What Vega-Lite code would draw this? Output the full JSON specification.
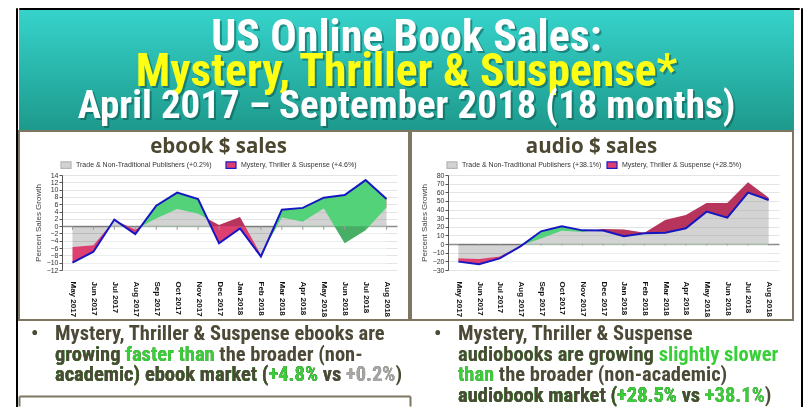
{
  "$schema": "https://vega.github.io/schema/vega-lite/v6.json",
  "background": "white",
  "padding": {"left": 15, "top": 7, "right": 0, "bottom": 0},
  "config": {"view": {"stroke": null}, "font": "Liberation Sans"},
  "datasets": {
    "sales": [
      {"month": "May 2017", "ebook_trade": -5.7, "ebook_mystery": -10.0, "audio_trade": -16.5, "audio_mystery": -20.3},
      {"month": "Jun 2017", "ebook_trade": -5.2, "ebook_mystery": -7.0, "audio_trade": -17.3, "audio_mystery": -23.4},
      {"month": "Jul 2017", "ebook_trade": 1.6, "ebook_mystery": 1.8, "audio_trade": -14.3, "audio_mystery": -16.5},
      {"month": "Aug 2017", "ebook_trade": -0.9, "ebook_mystery": -2.2, "audio_trade": -2.0, "audio_mystery": -2.6},
      {"month": "Sep 2017", "ebook_trade": 2.1, "ebook_mystery": 5.6, "audio_trade": 6.6, "audio_mystery": 14.8},
      {"month": "Oct 2017", "ebook_trade": 4.7, "ebook_mystery": 9.2, "audio_trade": 15.5, "audio_mystery": 20.6},
      {"month": "Nov 2017", "ebook_trade": 3.4, "ebook_mystery": 7.4, "audio_trade": 14.0, "audio_mystery": 15.9},
      {"month": "Dec 2017", "ebook_trade": 0.3, "ebook_mystery": -4.7, "audio_trade": 17.5, "audio_mystery": 15.6},
      {"month": "Jan 2018", "ebook_trade": 2.5, "ebook_mystery": -0.6, "audio_trade": 17.0, "audio_mystery": 9.0},
      {"month": "Feb 2018", "ebook_trade": -7.8, "ebook_mystery": -8.3, "audio_trade": 13.0, "audio_mystery": 12.5},
      {"month": "Mar 2018", "ebook_trade": 2.4, "ebook_mystery": 4.5, "audio_trade": 28.0, "audio_mystery": 13.2},
      {"month": "Apr 2018", "ebook_trade": 1.2, "ebook_mystery": 5.0, "audio_trade": 33.8, "audio_mystery": 18.3},
      {"month": "May 2018", "ebook_trade": 4.8, "ebook_mystery": 7.8, "audio_trade": 47.6, "audio_mystery": 37.6},
      {"month": "Jun 2018", "ebook_trade": -4.7, "ebook_mystery": 8.5, "audio_trade": 47.6, "audio_mystery": 30.6},
      {"month": "Jul 2018", "ebook_trade": -1.1, "ebook_mystery": 12.6, "audio_trade": 71.6, "audio_mystery": 59.6},
      {"month": "Aug 2018", "ebook_trade": 5.1, "ebook_mystery": 7.4, "audio_trade": 53.8, "audio_mystery": 51.1}
    ],
    "header": [
      {"line": 1, "text": "US Online Book Sales:"},
      {"line": 2, "text": "Mystery, Thriller & Suspense*"},
      {"line": 3, "text": "April 2017 – September 2018 (18 months)"}
    ],
    "bullets": [
      {"col": "L", "line": 1, "text": "Mystery, Thriller & Suspense ebooks are", "tone": "dark"},
      {"col": "L", "line": 2, "text": "growing faster than the broader (non-", "tone": "dark"},
      {"col": "L", "line": 2, "text": "growing faster than", "tone": "green"},
      {"col": "L", "line": 2, "text": "growing ", "tone": "dark"},
      {"col": "L", "line": 3, "text": "academic) ebook market (+4.8% vs +0.2%)", "tone": "dark"},
      {"col": "L", "line": 3, "text": "academic) ebook market (+4.8% vs +0.2%", "tone": "gray"},
      {"col": "L", "line": 3, "text": "academic) ebook market (+4.8% vs ", "tone": "dark"},
      {"col": "L", "line": 3, "text": "academic) ebook market (+4.8%", "tone": "green"},
      {"col": "L", "line": 3, "text": "academic) ebook market (", "tone": "dark"},
      {"col": "R", "line": 1, "text": "Mystery, Thriller & Suspense", "tone": "dark"},
      {"col": "R", "line": 2, "text": "audiobooks are growing slightly slower", "tone": "green"},
      {"col": "R", "line": 2, "text": "audiobooks are growing ", "tone": "dark"},
      {"col": "R", "line": 3, "text": "than the broader (non-academic)", "tone": "dark"},
      {"col": "R", "line": 3, "text": "than", "tone": "green"},
      {"col": "R", "line": 4, "text": "audiobook market (+28.5% vs +38.1%)", "tone": "dark"},
      {"col": "R", "line": 4, "text": "audiobook market (+28.5% vs +38.1%", "tone": "green"},
      {"col": "R", "line": 4, "text": "audiobook market (+28.5% vs ", "tone": "dark"},
      {"col": "R", "line": 4, "text": "audiobook market (+28.5%", "tone": "green"},
      {"col": "R", "line": 4, "text": "audiobook market (", "tone": "dark"}
    ],
    "dots": [
      {"col": "L", "line": 1, "text": "•"},
      {"col": "R", "line": 1, "text": "•"}
    ]
  },
  "spacing": 0,
  "resolve": {"scale": {"color": "independent", "fill": "independent", "size": "independent"}, "legend": {"color": "independent", "fill": "independent", "size": "independent"}},
  "hconcat": [
    {
      "width": 1, "height": 399,
      "view": {"stroke": "black", "strokeWidth": 1},
      "data": {"values": []},
      "mark": "point",
      "encoding": {}
    },
    {
      "spacing": 0,
      "resolve": {"scale": {"color": "independent", "fill": "independent", "size": "independent"}, "legend": {"color": "independent", "fill": "independent", "size": "independent"}},
      "vconcat": [
        {
          "width": 780, "height": 1,
          "view": {"stroke": "black", "strokeWidth": 1},
          "data": {"values": []},
          "mark": "point",
          "encoding": {}
        },
        {
          "width": 775, "height": 120,
          "view": {"stroke": null, "fill": {"gradient": "linear", "x1": 0, "y1": 0, "x2": 0, "y2": 1, "stops": [{"offset": 0, "color": "#36d3cb"}, {"offset": 1, "color": "#1d9a8c"}]}},
          "data": {"name": "header"},
          "encoding": {
            "x": {"datum": 0.5, "type": "quantitative", "scale": {"domain": [0, 1]}, "axis": null},
            "y": {"field": "line", "type": "ordinal", "scale": {"type": "point", "padding": 0, "domain": [1, 2, 3], "range": [28, 96]}, "axis": null},
            "text": {"field": "text"}
          },
          "layer": [
            {"transform": [{"filter": "datum.line === 1"}], "mark": {"type": "text", "align": "center", "baseline": "middle", "font": "Roboto Condensed", "fontWeight": "bold", "fontSize": 44, "dx": 2, "dy": 2, "fill": "#0a4f4a", "opacity": 0.5}},
            {"transform": [{"filter": "datum.line === 2"}], "mark": {"type": "text", "align": "center", "baseline": "middle", "font": "Roboto Condensed", "fontWeight": "bold", "fontSize": 45.5, "dx": 2, "dy": 2, "fill": "#0a4f4a", "opacity": 0.5}},
            {"transform": [{"filter": "datum.line === 3"}], "mark": {"type": "text", "align": "center", "baseline": "middle", "font": "Roboto Condensed", "fontWeight": "bold", "fontSize": 39, "dx": 2, "dy": 2, "fill": "#0a4f4a", "opacity": 0.5}},
            {"transform": [{"filter": "datum.line === 1"}], "mark": {"type": "text", "align": "center", "baseline": "middle", "font": "Roboto Condensed", "fontWeight": "bold", "fontSize": 44, "fill": "#ffffff"}},
            {"transform": [{"filter": "datum.line === 2"}], "mark": {"type": "text", "align": "center", "baseline": "middle", "font": "Roboto Condensed", "fontWeight": "bold", "fontSize": 45.5, "fill": "#ffff14"}},
            {"transform": [{"filter": "datum.line === 3"}], "mark": {"type": "text", "align": "center", "baseline": "middle", "font": "Roboto Condensed", "fontWeight": "bold", "fontSize": 39, "fill": "#ffffff"}}
          ]
        },
        {
          "spacing": 0,
          "resolve": {"scale": {"color": "independent", "fill": "independent", "size": "independent"}, "legend": {"color": "independent", "fill": "independent", "size": "independent"}},
          "hconcat": [
            {
              "width": 390, "height": 189,
              "view": {"stroke": "#7d7660", "strokeWidth": 2, "fill": "white"},
              "data": {"name": "sales"},
              "resolve": {"axis": {"x": "independent"}},
              "layer": [
                {
                  "mark": {"type": "area"},
                  "encoding": {
                    "x": {"field": "month", "type": "ordinal", "sort": null, "scale": {"type": "point", "padding": 0.5, "range": [43, 378]},
                      "axis": {"orient": "bottom", "offset": -41, "title": null, "domain": false, "ticks": false, "grid": false, "labelAngle": 90, "labelAlign": "left", "labelBaseline": "middle", "labelFont": "Liberation Sans", "labelFontSize": 8, "labelFontWeight": "bold", "labelColor": "#111", "labelPadding": 2}},
                    "y": {"field": "ebook_mystery", "type": "quantitative", "scale": {"domain": [-12, 14], "range": [139, 44], "nice": false, "zero": false},
                      "axis": {"orient": "left", "offset": -43, "title": "Percent Sales Growth", "values": [-12, -10, -8, -6, -4, -2, 0, 2, 4, 6, 8, 10, 12, 14], "labelOverlap": false, "domainColor": "#555", "tickColor": "#555", "tickSize": 3, "labelFont": "Liberation Sans", "labelFontSize": 7, "labelColor": "#333", "labelPadding": 1, "grid": true, "gridColor": {"condition": {"test": "datum.value === 0", "value": "#8c8c8c"}, "value": "#e4e4e4"}, "gridWidth": {"condition": {"test": "datum.value === 0", "value": 1.5}, "value": 1}, "titleFont": "Liberation Sans", "titleFontSize": 8, "titleFontWeight": "normal", "titleColor": "#444", "titlePadding": 4}},
                    "y2": {"field": "ebook_trade"},
                    "fill": {"datum": "Mystery, Thriller & Suspense (+4.6%)",
                      "scale": {"domain": ["Trade & Non-Traditional Publishers (+0.2%)", "Mystery, Thriller & Suspense (+4.6%)"], "range": ["#d3d3d3", "#dd3f70"]},
                      "legend": {"orient": "none", "legendX": 41, "legendY": 28, "direction": "horizontal", "title": null, "symbolType": "M-1,-0.65H1V0.65H-1Z", "symbolSize": 100, "labelFont": "Liberation Sans", "labelFontSize": 7, "labelColor": "#333", "labelOffset": 4, "columnPadding": 11, "labelLimit": 300,
                        "encode": {"symbols": {"update": {
                          "fill": [{"test": "datum.value === 'Mystery, Thriller & Suspense (+4.6%)'", "value": {"gradient": "linear", "x1": 0, "y1": 0, "x2": 1, "y2": 1, "stops": [{"offset": 0, "color": "#4cd46b"}, {"offset": 0.5, "color": "#4cd46b"}, {"offset": 0.5, "color": "#d23a68"}, {"offset": 1, "color": "#d23a68"}]}}, {"value": "#d3d3d3"}],
                          "stroke": [{"test": "datum.value === 'Mystery, Thriller & Suspense (+4.6%)'", "value": "#1a1ac8"}, {"value": "#b5b5b5"}],
                          "strokeWidth": {"value": 1.2},
                          "opacity": {"value": 1}, "fillOpacity": {"value": 1}}}}}}
                  }
                },
                {
                  "mark": {"type": "area", "blend": "hue", "fill": "#55d27a"},
                  "encoding": {"x": {"field": "month", "type": "ordinal", "sort": null, "axis": null},
                    "y": {"field": "ebook_mystery", "type": "quantitative", "axis": {"orient": "left", "offset": -43, "title": "Percent Sales Growth", "values": [-12, -10, -8, -6, -4, -2, 0, 2, 4, 6, 8, 10, 12, 14], "labelOverlap": false, "domainColor": "#555", "tickColor": "#555", "tickSize": 3, "labelFont": "Liberation Sans", "labelFontSize": 7, "labelColor": "#333", "labelPadding": 1, "grid": true, "gridColor": {"condition": {"test": "datum.value === 0", "value": "#8c8c8c"}, "value": "#e4e4e4"}, "gridWidth": {"condition": {"test": "datum.value === 0", "value": 1.5}, "value": 1}, "titleFont": "Liberation Sans", "titleFontSize": 8, "titleFontWeight": "normal", "titleColor": "#444", "titlePadding": 4}},
                    "y2": {"datum": -12}}
                },
                {
                  "mark": {"type": "area", "blend": "screen", "fill": "#486f4d"},
                  "encoding": {"x": {"field": "month", "type": "ordinal", "sort": null, "axis": null},
                    "y": {"field": "ebook_mystery", "type": "quantitative", "axis": {"orient": "left", "offset": -43, "title": "Percent Sales Growth", "values": [-12, -10, -8, -6, -4, -2, 0, 2, 4, 6, 8, 10, 12, 14], "labelOverlap": false, "domainColor": "#555", "tickColor": "#555", "tickSize": 3, "labelFont": "Liberation Sans", "labelFontSize": 7, "labelColor": "#333", "labelPadding": 1, "grid": true, "gridColor": {"condition": {"test": "datum.value === 0", "value": "#8c8c8c"}, "value": "#e4e4e4"}, "gridWidth": {"condition": {"test": "datum.value === 0", "value": 1.5}, "value": 1}, "titleFont": "Liberation Sans", "titleFontSize": 8, "titleFontWeight": "normal", "titleColor": "#444", "titlePadding": 4}},
                    "y2": {"datum": -12}}
                },
                {
                  "mark": {"type": "area", "blend": "multiply"},
                  "encoding": {"x": {"field": "month", "type": "ordinal", "sort": null, "axis": null},
                    "y": {"field": "ebook_trade", "type": "quantitative", "axis": {"orient": "left", "offset": -43, "title": "Percent Sales Growth", "values": [-12, -10, -8, -6, -4, -2, 0, 2, 4, 6, 8, 10, 12, 14], "labelOverlap": false, "domainColor": "#555", "tickColor": "#555", "tickSize": 3, "labelFont": "Liberation Sans", "labelFontSize": 7, "labelColor": "#333", "labelPadding": 1, "grid": true, "gridColor": {"condition": {"test": "datum.value === 0", "value": "#8c8c8c"}, "value": "#e4e4e4"}, "gridWidth": {"condition": {"test": "datum.value === 0", "value": 1.5}, "value": 1}, "titleFont": "Liberation Sans", "titleFontSize": 8, "titleFontWeight": "normal", "titleColor": "#444", "titlePadding": 4}},
                    "y2": {"datum": 0}, "fill": {"datum": "Trade & Non-Traditional Publishers (+0.2%)"}}
                },
                {
                  "mark": {"type": "rule", "color": "#999", "strokeWidth": 1},
                  "encoding": {"x": {"field": "month", "type": "ordinal", "sort": null, "axis": null},
                    "y": {"datum": 0, "axis": {"orient": "left", "offset": -43, "title": "Percent Sales Growth", "values": [-12, -10, -8, -6, -4, -2, 0, 2, 4, 6, 8, 10, 12, 14], "labelOverlap": false, "domainColor": "#555", "tickColor": "#555", "tickSize": 3, "labelFont": "Liberation Sans", "labelFontSize": 7, "labelColor": "#333", "labelPadding": 1, "grid": true, "gridColor": {"condition": {"test": "datum.value === 0", "value": "#8c8c8c"}, "value": "#e4e4e4"}, "gridWidth": {"condition": {"test": "datum.value === 0", "value": 1.5}, "value": 1}, "titleFont": "Liberation Sans", "titleFontSize": 8, "titleFontWeight": "normal", "titleColor": "#444", "titlePadding": 4}},
                    "y2": {"datum": -1}}
                },
                {
                  "mark": {"type": "line", "color": "#1616c2", "strokeWidth": 2},
                  "encoding": {
                    "x": {"field": "month", "type": "ordinal", "sort": null,
                      "axis": {"orient": "top", "offset": -21, "domain": false, "ticks": false, "labels": false, "grid": false, "title": "ebook $ sales", "titleFont": "Open Sans", "titleFontSize": 20.5, "titleFontWeight": "bold", "titleColor": "#4b4731", "titlePadding": 0, "titleBaseline": "alphabetic", "titleX": 199}},
                    "y": {"field": "ebook_mystery", "type": "quantitative", "axis": {"orient": "left", "offset": -43, "title": "Percent Sales Growth", "values": [-12, -10, -8, -6, -4, -2, 0, 2, 4, 6, 8, 10, 12, 14], "labelOverlap": false, "domainColor": "#555", "tickColor": "#555", "tickSize": 3, "labelFont": "Liberation Sans", "labelFontSize": 7, "labelColor": "#333", "labelPadding": 1, "grid": true, "gridColor": {"condition": {"test": "datum.value === 0", "value": "#8c8c8c"}, "value": "#e4e4e4"}, "gridWidth": {"condition": {"test": "datum.value === 0", "value": 1.5}, "value": 1}, "titleFont": "Liberation Sans", "titleFontSize": 8, "titleFontWeight": "normal", "titleColor": "#444", "titlePadding": 4}}}
                }
              ]
            },
            {
              "width": 382, "height": 189,
              "view": {"stroke": "#7d7660", "strokeWidth": 2, "fill": "white"},
              "data": {"name": "sales"},
              "resolve": {"axis": {"x": "independent"}},
              "layer": [
                {
                  "mark": {"type": "area"},
                  "encoding": {
                    "x": {"field": "month", "type": "ordinal", "sort": null, "scale": {"type": "point", "padding": 0.5, "range": [37, 368]},
                      "axis": {"orient": "bottom", "offset": -41, "title": null, "domain": false, "ticks": false, "grid": false, "labelAngle": 90, "labelAlign": "left", "labelBaseline": "middle", "labelFont": "Liberation Sans", "labelFontSize": 8, "labelFontWeight": "bold", "labelColor": "#111", "labelPadding": 2}},
                    "y": {"field": "audio_mystery", "type": "quantitative", "scale": {"domain": [-30, 80], "range": [139, 44], "nice": false, "zero": false},
                      "axis": {"orient": "left", "offset": -37, "title": "Percent Sales Growth", "values": [-30, -20, -10, 0, 10, 20, 30, 40, 50, 60, 70, 80], "labelOverlap": false, "domainColor": "#555", "tickColor": "#555", "tickSize": 3, "labelFont": "Liberation Sans", "labelFontSize": 7, "labelColor": "#333", "labelPadding": 1, "grid": true, "gridColor": {"condition": {"test": "datum.value === 0", "value": "#8c8c8c"}, "value": "#e4e4e4"}, "gridWidth": {"condition": {"test": "datum.value === 0", "value": 1.5}, "value": 1}, "titleFont": "Liberation Sans", "titleFontSize": 8, "titleFontWeight": "normal", "titleColor": "#444", "titlePadding": 4}},
                    "y2": {"field": "audio_trade"},
                    "fill": {"datum": "Mystery, Thriller & Suspense (+28.5%)",
                      "scale": {"domain": ["Trade & Non-Traditional Publishers (+38.1%)", "Mystery, Thriller & Suspense (+28.5%)"], "range": ["#d3d3d3", "#dd3f70"]},
                      "legend": {"orient": "none", "legendX": 35, "legendY": 28, "direction": "horizontal", "title": null, "symbolType": "M-1,-0.65H1V0.65H-1Z", "symbolSize": 100, "labelFont": "Liberation Sans", "labelFontSize": 7, "labelColor": "#333", "labelOffset": 4, "columnPadding": 2, "labelLimit": 300,
                        "encode": {"symbols": {"update": {
                          "fill": [{"test": "datum.value === 'Mystery, Thriller & Suspense (+28.5%)'", "value": {"gradient": "linear", "x1": 0, "y1": 0, "x2": 1, "y2": 1, "stops": [{"offset": 0, "color": "#4cd46b"}, {"offset": 0.5, "color": "#4cd46b"}, {"offset": 0.5, "color": "#d23a68"}, {"offset": 1, "color": "#d23a68"}]}}, {"value": "#d3d3d3"}],
                          "stroke": [{"test": "datum.value === 'Mystery, Thriller & Suspense (+28.5%)'", "value": "#1a1ac8"}, {"value": "#b5b5b5"}],
                          "strokeWidth": {"value": 1.2},
                          "opacity": {"value": 1}, "fillOpacity": {"value": 1}}}}}}
                  }
                },
                {
                  "mark": {"type": "area", "blend": "hue", "fill": "#55d27a"},
                  "encoding": {"x": {"field": "month", "type": "ordinal", "sort": null, "axis": null},
                    "y": {"field": "audio_mystery", "type": "quantitative", "axis": {"orient": "left", "offset": -37, "title": "Percent Sales Growth", "values": [-30, -20, -10, 0, 10, 20, 30, 40, 50, 60, 70, 80], "labelOverlap": false, "domainColor": "#555", "tickColor": "#555", "tickSize": 3, "labelFont": "Liberation Sans", "labelFontSize": 7, "labelColor": "#333", "labelPadding": 1, "grid": true, "gridColor": {"condition": {"test": "datum.value === 0", "value": "#8c8c8c"}, "value": "#e4e4e4"}, "gridWidth": {"condition": {"test": "datum.value === 0", "value": 1.5}, "value": 1}, "titleFont": "Liberation Sans", "titleFontSize": 8, "titleFontWeight": "normal", "titleColor": "#444", "titlePadding": 4}},
                    "y2": {"datum": -30}}
                },
                {
                  "mark": {"type": "area", "blend": "screen", "fill": "#486f4d"},
                  "encoding": {"x": {"field": "month", "type": "ordinal", "sort": null, "axis": null},
                    "y": {"field": "audio_mystery", "type": "quantitative", "axis": {"orient": "left", "offset": -37, "title": "Percent Sales Growth", "values": [-30, -20, -10, 0, 10, 20, 30, 40, 50, 60, 70, 80], "labelOverlap": false, "domainColor": "#555", "tickColor": "#555", "tickSize": 3, "labelFont": "Liberation Sans", "labelFontSize": 7, "labelColor": "#333", "labelPadding": 1, "grid": true, "gridColor": {"condition": {"test": "datum.value === 0", "value": "#8c8c8c"}, "value": "#e4e4e4"}, "gridWidth": {"condition": {"test": "datum.value === 0", "value": 1.5}, "value": 1}, "titleFont": "Liberation Sans", "titleFontSize": 8, "titleFontWeight": "normal", "titleColor": "#444", "titlePadding": 4}},
                    "y2": {"datum": -30}}
                },
                {
                  "mark": {"type": "area", "blend": "multiply"},
                  "encoding": {"x": {"field": "month", "type": "ordinal", "sort": null, "axis": null},
                    "y": {"field": "audio_trade", "type": "quantitative", "axis": {"orient": "left", "offset": -37, "title": "Percent Sales Growth", "values": [-30, -20, -10, 0, 10, 20, 30, 40, 50, 60, 70, 80], "labelOverlap": false, "domainColor": "#555", "tickColor": "#555", "tickSize": 3, "labelFont": "Liberation Sans", "labelFontSize": 7, "labelColor": "#333", "labelPadding": 1, "grid": true, "gridColor": {"condition": {"test": "datum.value === 0", "value": "#8c8c8c"}, "value": "#e4e4e4"}, "gridWidth": {"condition": {"test": "datum.value === 0", "value": 1.5}, "value": 1}, "titleFont": "Liberation Sans", "titleFontSize": 8, "titleFontWeight": "normal", "titleColor": "#444", "titlePadding": 4}},
                    "y2": {"datum": 0}, "fill": {"datum": "Trade & Non-Traditional Publishers (+38.1%)"}}
                },
                {
                  "mark": {"type": "rule", "color": "#999", "strokeWidth": 1},
                  "encoding": {"x": {"field": "month", "type": "ordinal", "sort": null, "axis": null},
                    "y": {"datum": 0, "axis": {"orient": "left", "offset": -37, "title": "Percent Sales Growth", "values": [-30, -20, -10, 0, 10, 20, 30, 40, 50, 60, 70, 80], "labelOverlap": false, "domainColor": "#555", "tickColor": "#555", "tickSize": 3, "labelFont": "Liberation Sans", "labelFontSize": 7, "labelColor": "#333", "labelPadding": 1, "grid": true, "gridColor": {"condition": {"test": "datum.value === 0", "value": "#8c8c8c"}, "value": "#e4e4e4"}, "gridWidth": {"condition": {"test": "datum.value === 0", "value": 1.5}, "value": 1}, "titleFont": "Liberation Sans", "titleFontSize": 8, "titleFontWeight": "normal", "titleColor": "#444", "titlePadding": 4}},
                    "y2": {"datum": -1.5}}
                },
                {
                  "mark": {"type": "line", "color": "#1616c2", "strokeWidth": 2},
                  "encoding": {
                    "x": {"field": "month", "type": "ordinal", "sort": null,
                      "axis": {"orient": "top", "offset": -21, "domain": false, "ticks": false, "labels": false, "grid": false, "title": "audio $ sales", "titleFont": "Open Sans", "titleFontSize": 20.5, "titleFontWeight": "bold", "titleColor": "#4b4731", "titlePadding": 0, "titleBaseline": "alphabetic", "titleX": 180}},
                    "y": {"field": "audio_mystery", "type": "quantitative", "axis": {"orient": "left", "offset": -37, "title": "Percent Sales Growth", "values": [-30, -20, -10, 0, 10, 20, 30, 40, 50, 60, 70, 80], "labelOverlap": false, "domainColor": "#555", "tickColor": "#555", "tickSize": 3, "labelFont": "Liberation Sans", "labelFontSize": 7, "labelColor": "#333", "labelPadding": 1, "grid": true, "gridColor": {"condition": {"test": "datum.value === 0", "value": "#8c8c8c"}, "value": "#e4e4e4"}, "gridWidth": {"condition": {"test": "datum.value === 0", "value": 1.5}, "value": 1}, "titleFont": "Liberation Sans", "titleFontSize": 8, "titleFontWeight": "normal", "titleColor": "#444", "titlePadding": 4}}}
                }
              ]
            }
          ]
        },
        {
          "spacing": 0,
          "resolve": {"scale": {"color": "independent", "fill": "independent", "size": "independent"}, "legend": {"color": "independent", "fill": "independent", "size": "independent"}},
          "hconcat": [
            {
              "spacing": 0,
              "vconcat": [
                {
                  "width": 397, "height": 75,
                  "view": {"fill": "white", "stroke": null},
                  "encoding": {
                    "x": {"field": "col", "type": "nominal", "scale": {"type": "point", "padding": 0, "domain": ["L"], "range": [36, 36]}, "axis": null},
                    "y": {"field": "line", "type": "ordinal", "scale": {"type": "point", "padding": 0, "domain": [1, 2, 3], "range": [13, 54.33]}, "axis": null},
                    "text": {"field": "text"}
                  },
                  "layer": [
                    {
                      "data": {"name": "dots"},
                      "transform": [{"filter": "datum.col === 'L'"}],
                      "mark": {"type": "text", "align": "left", "baseline": "middle", "font": "Roboto Condensed", "fontWeight": "bold", "fontSize": 20.5, "dx": -24, "fill": "#4c4a36"}
                    },
                    {
                      "data": {"name": "bullets"},
                      "transform": [{"filter": "datum.col === 'L'"}],
                      "mark": {"type": "text", "align": "left", "baseline": "middle", "font": "Roboto Condensed", "fontWeight": "bold", "fontSize": 20.5},
                      "encoding": {"color": {"field": "tone", "type": "nominal", "scale": {"domain": ["dark", "green", "gray"], "range": ["#4c4a36", "#38cf38", "#a6a6a6"]}, "legend": null}}
                    }
                  ]
                },
                {
                  "width": 391, "height": 10,
                  "view": {"fill": "white", "stroke": null},
                  "data": {"values": []},
                  "layer": [
                    {
                      "mark": "rule",
                      "encoding": {
                        "x": {"field": "v", "type": "quantitative", "scale": {"domain": [0, 1]}, "axis": {"orient": "top", "domainColor": "#7d7660", "domainWidth": 2, "ticks": false, "labels": false, "grid": false, "title": null}},
                        "y": {"field": "v", "type": "quantitative", "scale": {"domain": [0, 1]}, "axis": {"orient": "left", "domainColor": "#7d7660", "domainWidth": 2, "ticks": false, "labels": false, "grid": false, "title": null}}
                      }
                    },
                    {
                      "mark": "rule",
                      "encoding": {
                        "y": {"field": "w", "type": "quantitative", "scale": {"domain": [0, 1]}, "axis": {"orient": "right", "domainColor": "#7d7660", "domainWidth": 2, "ticks": false, "labels": false, "grid": false, "title": null}}
                      }
                    }
                  ],
                  "resolve": {"scale": {"y": "independent"}, "axis": {"y": "independent"}}
                }
              ]
            },
            {
              "width": 383, "height": 86,
              "view": {"fill": "white", "stroke": null},
              "encoding": {
                "x": {"field": "col", "type": "nominal", "scale": {"type": "point", "padding": 0, "domain": ["R"], "range": [42, 42]}, "axis": null},
                "y": {"field": "line", "type": "ordinal", "scale": {"type": "point", "padding": 0, "domain": [1, 2, 3, 4], "range": [13, 75]}, "axis": null},
                "text": {"field": "text"}
              },
              "layer": [
                {
                  "data": {"name": "dots"},
                  "transform": [{"filter": "datum.col === 'R'"}],
                  "mark": {"type": "text", "align": "left", "baseline": "middle", "font": "Roboto Condensed", "fontWeight": "bold", "fontSize": 20.5, "dx": -24, "fill": "#4c4a36"}
                },
                {
                  "data": {"name": "bullets"},
                  "transform": [{"filter": "datum.col === 'R'"}],
                  "mark": {"type": "text", "align": "left", "baseline": "middle", "font": "Roboto Condensed", "fontWeight": "bold", "fontSize": 20.5},
                  "encoding": {"color": {"field": "tone", "type": "nominal", "scale": {"domain": ["dark", "green", "gray"], "range": ["#4c4a36", "#38cf38", "#a6a6a6"]}, "legend": null}}
                }
              ]
            }
          ]
        }
      ]
    },
    {
      "width": 1, "height": 399,
      "view": {"stroke": "black", "strokeWidth": 1},
      "data": {"values": []},
      "mark": "point",
      "encoding": {}
    }
  ]
}
